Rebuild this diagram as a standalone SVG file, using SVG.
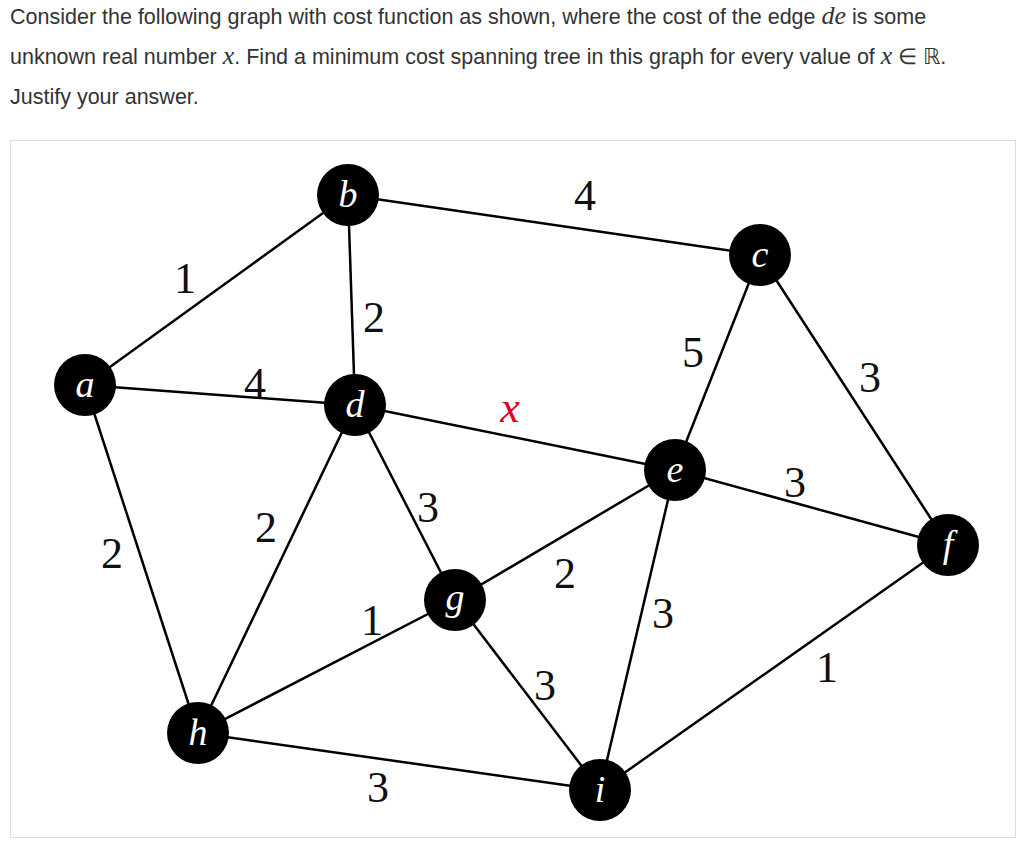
<svg xmlns="http://www.w3.org/2000/svg" width="1024" height="846" viewBox="0 0 1024 846">
<style>
.h{font-family:"Helvetica","Liberation Sans",Arial,sans-serif;font-size:21.5px;fill:#333}
.m{font-family:"Liberation Serif",serif;font-style:italic;font-size:26px}
.n circle{fill:#000}
.n text{font-family:"Liberation Serif",serif;font-style:italic;font-size:38px;fill:#fff;text-anchor:middle}
.w{font-family:"Liberation Serif",serif;font-size:44px;fill:#111;text-anchor:middle}
.x{fill:#e0001b;font-style:italic}
#edges line{stroke:#000;stroke-width:2.5}
</style>
<rect width="1024" height="846" fill="#fff"/>
<text class="h" x="10" y="24">Consider the following graph with cost function as shown, where the cost of the edge <tspan class="m">de</tspan> is some</text>
<text class="h" x="10" y="64">unknown real number <tspan class="m">x</tspan>. Find a minimum cost spanning tree in this graph for every value of <tspan class="m">x</tspan> ∈ ℝ.</text>
<text class="h" x="10" y="104">Justify your answer.</text>
<rect x="10.5" y="140.5" width="1005" height="697" fill="none" stroke="#ddd"/>
<g id="edges">
<line x1="348" y1="195" x2="760" y2="255"/>
<line x1="85" y1="385" x2="348" y2="195"/>
<line x1="348" y1="195" x2="355" y2="405"/>
<line x1="85" y1="385" x2="355" y2="405"/>
<line x1="85" y1="385" x2="198" y2="733"/>
<line x1="355" y1="405" x2="675" y2="470"/>
<line x1="355" y1="405" x2="198" y2="733"/>
<line x1="355" y1="405" x2="455" y2="600"/>
<line x1="760" y1="255" x2="675" y2="470"/>
<line x1="760" y1="255" x2="948" y2="545"/>
<line x1="675" y1="470" x2="948" y2="545"/>
<line x1="675" y1="470" x2="455" y2="600"/>
<line x1="675" y1="470" x2="600" y2="790"/>
<line x1="455" y1="600" x2="198" y2="733"/>
<line x1="455" y1="600" x2="600" y2="790"/>
<line x1="198" y1="733" x2="600" y2="790"/>
<line x1="948" y1="545" x2="600" y2="790"/>
</g>
<g id="labels">
<text class="w" x="585" y="210">4</text>
<text class="w" x="185" y="293">1</text>
<text class="w" x="374" y="332">2</text>
<text class="w" x="693" y="367">5</text>
<text class="w" x="870" y="392">3</text>
<text class="w" x="255" y="398">4</text>
<text class="w x" x="510" y="422">x</text>
<text class="w" x="428" y="522">3</text>
<text class="w" x="266" y="542">2</text>
<text class="w" x="795" y="497">3</text>
<text class="w" x="112" y="568">2</text>
<text class="w" x="565" y="588">2</text>
<text class="w" x="372" y="635">1</text>
<text class="w" x="663" y="628">3</text>
<text class="w" x="545" y="700">3</text>
<text class="w" x="827" y="682">1</text>
<text class="w" x="378" y="802">3</text>
</g>
<g id="node-b" class="n"><circle cx="348" cy="195" r="31"/><text x="348" y="207">b</text></g>
<g id="node-c" class="n"><circle cx="760" cy="255" r="31"/><text x="760" y="267">c</text></g>
<g id="node-a" class="n"><circle cx="85" cy="385" r="31"/><text x="85" y="397">a</text></g>
<g id="node-d" class="n"><circle cx="355" cy="405" r="31"/><text x="355" y="417">d</text></g>
<g id="node-e" class="n"><circle cx="675" cy="470" r="31"/><text x="675" y="482">e</text></g>
<g id="node-f" class="n"><circle cx="948" cy="545" r="31"/><text x="948" y="557">f</text></g>
<g id="node-g" class="n"><circle cx="455" cy="600" r="31"/><text x="455" y="610">g</text></g>
<g id="node-h" class="n"><circle cx="198" cy="733" r="31"/><text x="198" y="745">h</text></g>
<g id="node-i" class="n"><circle cx="600" cy="790" r="31"/><text x="600" y="802">i</text></g>
</svg>
